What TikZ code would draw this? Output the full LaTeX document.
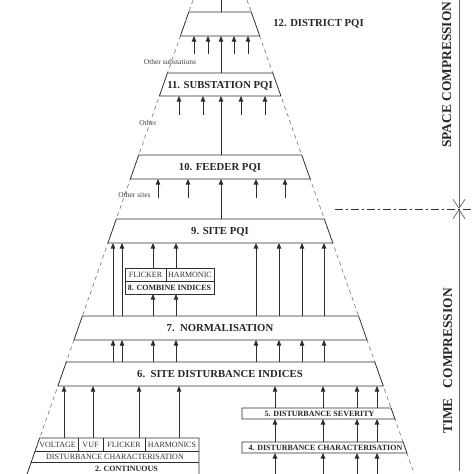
\documentclass[tikz,border=0pt]{standalone}
\usepackage{fontspec}
\setmainfont{Liberation Serif}
\usetikzlibrary{arrows.meta}
\newcommand\pyrbox[4]{%
  \draw[boxln] ({193-0.35*#2},#2) -- ({247+0.353*#2},#2) -- ({247+0.353*#3},#3) -- ({193-0.35*#3},#3) -- cycle;
  \coordinate (#1t) at (221,#2);
  \coordinate (#1b) at (221,#3);
  \node[big] (#1) at (220,{(#2+#3)/2}) {#4};
}
\begin{document}
\begin{tikzpicture}[x=1pt,y=-1pt,
  ln/.style={draw=black!82, line width=0.75pt},
  arr/.style={ln, -{Triangle[length=5.5pt,width=4.5pt]}},
  pyr/.style={draw=black!55, dash pattern=on 4pt off 3.5pt, line width=0.6pt},
  boxln/.style={ln, fill=white},
  big/.style={font=\bfseries\fontsize{10.7}{12}\selectfont, inner sep=0pt, text depth=0pt, text=black!85},
  small/.style={font=\bfseries\fontsize{8}{9}\selectfont, inner sep=0pt, text depth=0pt, text=black!85},
  cell/.style={font=\fontsize{8}{9}\selectfont, inner sep=0pt, text depth=0pt, text=black!80},
  note/.style={font=\fontsize{7.5}{9}\selectfont, inner sep=0pt, text depth=0pt, text=black!75},
  side/.style={font=\bfseries\fontsize{13.4}{15}\selectfont, inner sep=0pt, rotate=90, anchor=base west, text=black!85},
  sideln/.style={draw=black!60, line width=0.7pt},
  barb/.style={-{Straight Barb[length=9pt,width=12pt]}},
  dashdot/.style={draw=black!80, line width=0.7pt, dash pattern=on 8pt off 3pt on 2pt off 3pt},
  ]
\useasboundingbox (0,0) rectangle (474,474);
\clip (0,0) rectangle (474,474);

% notes (under the dashed pyramid)
\node[note] (n1) at (170,62) {Other substations};
\node[note] (n2) at (148,123) {Other};
\node[note] (n3) at (134.5,195) {Other sites};

% pyramid
\coordinate (pl0) at (193,0); \coordinate (pl1) at ({193-0.35*480},480);
\coordinate (pr0) at (247,0); \coordinate (pr1) at ({247+0.353*480},480);
\draw[pyr] (pl0) -- (pl1);
\draw[pyr] (pr0) -- (pr1);

% pyramid boxes
\pyrbox{b12}{12}{36}{}
\pyrbox{b11}{73}{96}{11. SUBSTATION PQI}
\pyrbox{b10}{155}{179}{10. FEEDER PQI}
\pyrbox{b9}{219}{243}{9. SITE PQI}
\pyrbox{b7}{316}{340}{7.\ \ NORMALISATION}
\pyrbox{b6}{362}{386}{6.\ \ SITE DISTURBANCE INDICES}
\node[big] (l12) at (318.5,22.5) {12. DISTRICT PQI};

% box 8
\draw[boxln] (125,268) rectangle (214,294);
\draw[ln] (125,281) -- (214,281);
\draw[ln] (166,268) -- (166,281);
\coordinate (b8t) at (170,268); \coordinate (b8b) at (170,294);
\node[cell] (fl8) at (145.5,274.8) {FLICKER};
\node[cell] (ha8) at (190,274.8) {HARMONIC};
\node[small] (b8) at (169.5,287.7) {8. COMBINE INDICES};

% boxes 5 and 4
\draw[boxln] (242,408) -- ({247+0.353*408},408) -- ({247+0.353*419},419) -- (242,419) -- cycle;
\coordinate (b5t) at (320,408); \coordinate (b5b) at (320,419);
\node[small] (b5) at (319.5,413.7) {5. DISTURBANCE SEVERITY};
\draw[boxln] (242,442) -- ({247+0.353*442},442) -- ({247+0.353*453},453) -- (242,453) -- cycle;
\coordinate (b4t) at (320,442); \coordinate (b4b) at (320,453);
\node[small] (b4) at (325.5,447.7) {4. DISTURBANCE CHARACTERISATION};

% bottom-left group
\fill[white] ({193-0.35*438},438) -- (199,438) -- (199,476) -- ({193-0.35*476},476) -- cycle;
\draw[ln] ({193-0.35*476},476) -- ({193-0.35*438},438) -- (199,438) -- (199,476);
\draw[ln] ({193-0.35*451},451) -- (199,451);
\draw[ln] ({193-0.35*462},462) -- (199,462);
\draw[ln] (78,438) -- (78,451);
\draw[ln] (103,438) -- (103,451);
\draw[ln] (145,438) -- (145,451);
\coordinate (b1t) at (120,438);
\node[cell] (vo) at (57.5,444.8) {VOLTAGE};
\node[cell] (vu) at (90.5,444.8) {VUF};
\node[cell] (fl) at (124,444.8) {FLICKER};
\node[cell] (ha) at (172,444.8) {HARMONICS};
\node[cell] (dc) at (115,456.8) {DISTURBANCE CHARACTERISATION};
\node[small] (b2) at (126.5,468.6) {2. CONTINUOUS};

% column coordinates
\foreach \n/\x in {a/113,b/122,c/153,d/176,e/256,f/279,g/302,h/324,
                   p/64,q/93,r/139,s/179,
                   t/275,u/323,v/357,w/377,
                   k1/194,k2/208,k3/234,k4/248,
                   m1/179,m2/203,m3/241,m4/265,
                   o1/158,o2/188,o3/256,o4/285}
  \coordinate (x\n) at (\x,0);
\coordinate (top) at (221,0);
\coordinate (r12) at (0,54);
\coordinate (r11) at (0,115);
\coordinate (r10) at (0,198);
\coordinate (rb) at (0,476);

% arrows top part
\draw[ln] (b12t) -- (top);
\draw[arr] (b11t) -- (b12b);
\foreach \n in {k1,k2,k3,k4} \draw[arr] (x\n |- r12) -- (x\n |- b12b);
\draw[arr] (b10t) -- (b11b);
\foreach \n in {m1,m2,m3,m4} \draw[arr] (x\n |- r11) -- (x\n |- b11b);
\draw[arr] (b9t) -- (b10b);
\foreach \n in {o1,o2,o3,o4} \draw[arr] (x\n |- r10) -- (x\n |- b10b);

% into site PQI
\foreach \n in {a,b,e,f,g,h} \draw[arr] (x\n |- b7t) -- (x\n |- b9b);
\foreach \n in {c,d} \draw[arr] (x\n |- b8t) -- (x\n |- b9b);
\foreach \n in {c,d} \draw[arr] (x\n |- b7t) -- (x\n |- b8b);
\foreach \n in {a,b,c,d,e,f,g,h} \draw[arr] (x\n |- b6t) -- (x\n |- b7b);
\foreach \n in {p,q,r,s} \draw[arr] (x\n |- b1t) -- (x\n |- b6b);
\foreach \n in {t,u,v,w} {
  \draw[arr] (x\n |- b5t) -- (x\n |- b6b);
  \draw[arr] (x\n |- b4t) -- (x\n |- b5b);
  \draw[arr] (x\n |- rb) -- (x\n |- b4b);
}

% right side
\coordinate (sTop) at (459,0); \coordinate (sMid) at (459,209); \coordinate (sBot) at (459,471);
\coordinate (dL) at (335,209); \coordinate (dR) at (476,209);
\draw[dashdot] (dL) -- (dR);
\draw[sideln, barb] (sTop) -- (sMid);
\draw[sideln, barb] (sBot) -- (sMid);
\node[side] (sp) at (451,148) {SPACE COMPRESSION};
\node[side] (tc) at (452,434) {TIME\hspace{10pt}COMPRESSION};
\end{tikzpicture}
\end{document}
